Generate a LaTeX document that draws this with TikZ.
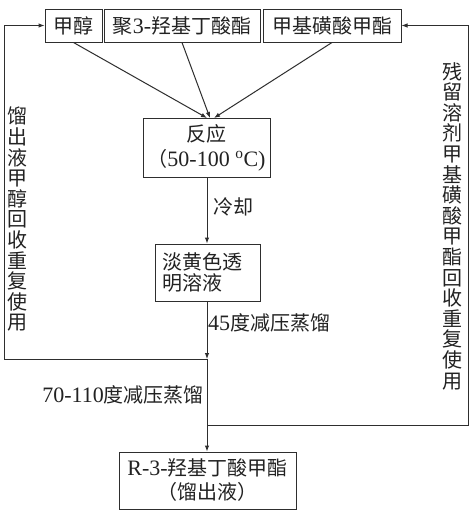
\documentclass[tikz,border=0pt]{standalone}
\usepackage{fontspec}
\setmainfont{Liberation Serif}
\newfontfamily\cjk{Noto Sans CJK SC}
\usetikzlibrary{arrows.meta}
\newcommand\lat[1]{{\rmfamily\fontsize{22}{25}\selectfont #1}}
\newcommand\tightlines{\lineskiplimit=-30pt\relax\lineskip=0pt\relax}
\def\vcharloop#1{\ifx\relax#1\else\hbox{#1}\expandafter\vcharloop\fi}
\newcommand\vchars[1]{\vbox{\baselineskip=20.6pt\lineskiplimit=-100pt\lineskip=0pt\vcharloop#1\relax}}
\definecolor{linec}{HTML}{2E2E2E}
\definecolor{txtc}{HTML}{222222}
\begin{document}
\begin{tikzpicture}[x=1pt,y=-1pt,
  box/.style={draw=linec, line width=1pt, inner sep=0pt, text=txtc},
  arr/.style={draw=linec, line width=1pt, -{Latex[length=6pt,width=4.5pt]}},
  ln/.style={draw=linec, line width=1pt},
  lbl/.style={inner sep=0pt, text=txtc},
  every node/.style={font=\cjk\fontsize{20}{25}\selectfont\tightlines}]
\useasboundingbox (0,0) rectangle (474,514);
\fill[white] (0,0) rectangle (474,514);
% top boxes
\node[box, minimum width=57pt, minimum height=33pt] (m) at (73.5,25.5) {甲醇};
\node[box, minimum width=156pt, minimum height=33pt] (p) at (182,25.5) {聚\lat{3-}羟基丁酸酯};
\node[box, minimum width=138pt, minimum height=33pt] (s) at (332,25.5) {甲基磺酸甲酯};
% reaction
\node[box, minimum width=127pt, minimum height=59pt, align=center] (r) at (206.5,147.5) {反应\\（\lat{50-100 \textsuperscript{o}C)}};
% solution
\node[box, minimum width=105pt, minimum height=57pt, inner xsep=7pt, text width=91pt, align=left,
      font=\cjk\fontsize{20}{21}\selectfont\tightlines] (d) at (207.5,272.5) {淡黄色透\\明溶液};
% product
\node[box, minimum width=177pt, minimum height=57pt, align=center,
      font=\cjk\fontsize{20}{24}\selectfont\tightlines] (b) at (207.5,480.5) {\lat{R-3-}羟基丁酸甲酯\\（馏出液）};
% coordinates
\coordinate (r1) at (207,118);
\coordinate (r2) at (210,118);
\coordinate (r3) at (214,118);
\coordinate (j1) at (207,359);
\coordinate (j2) at (207,425);
\coordinate (lt) at (4.5,25.5);
\coordinate (rt) at (468,25.5);
% connectors
\draw[arr] (m.south) -- (r1);
\draw[arr] (p.south) -- (r2);
\draw[arr] (s.south) -- (r3);
\draw[arr] (r.south -| j1) -- (d.north -| j1);
\draw[arr] (d.south -| j1) -- (j1);
\draw[arr] (j1) -| (lt) -- (m.west);
\draw[ln] (j1) -- (j2);
\draw[arr] (j2) -| (rt) -- (s.east);
\draw[arr] (j2) -- (b.north -| j2);
% labels
\node[lbl, anchor=west] (l1) at (213,207) {冷却};
\node[lbl, anchor=west] (l2) at (208,323) {\lat{45}度减压蒸馏};
\node[lbl, anchor=east] (l3) at (204,395) {\lat{70-110}度减压蒸馏};
\node[lbl, anchor=north] (v1) at (18,107) {\vchars{馏出液甲醇回收重复使用}};
\node[lbl, anchor=north] (v2) at (452,62) {\vchars{残留溶剂甲基磺酸甲酯回收重复使用}};
\end{tikzpicture}
\end{document}
